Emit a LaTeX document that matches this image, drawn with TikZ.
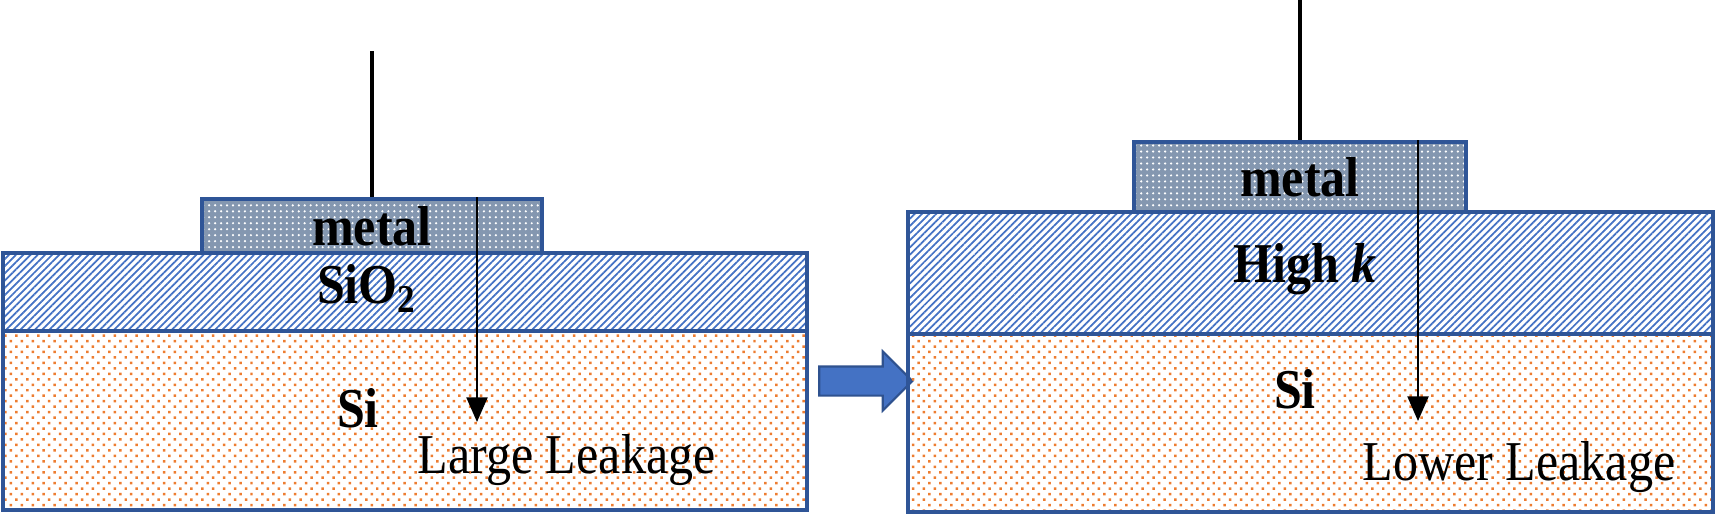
\documentclass[tikz,border=0pt]{standalone}
\usepackage{fontspec}
\setmainfont{Liberation Serif}[FakeStretch=0.89]
\usepackage{tikz}
\usetikzlibrary{arrows.meta,patterns.meta,shapes.arrows}
\definecolor{gateEdge}{HTML}{2F5597}
\definecolor{gateMetal}{HTML}{8497B0}
\definecolor{gateHatch}{HTML}{4472C4}
\definecolor{gateDots}{HTML}{ED7D31}
\definecolor{gateArrow}{HTML}{4472C4}
\definecolor{gateArrowEdge}{HTML}{2F528F}

\begin{document}
\begin{tikzpicture}[
  x=0.1mm,y=-0.1mm,
  font=\fontsize{16}{19}\selectfont,
  layer/.style={draw=gateEdge,line width=0.9pt,inner sep=0pt},
  sub/.style={layer,pattern={Dots[angle=45,distance=2.2pt,radius=0.5pt]},pattern color=gateDots},
  oxide/.style={layer,pattern={Lines[angle=45,distance=1.45pt,line width=0.5pt]},pattern color=gateHatch},
  gate/.style={layer,preaction={fill=gateMetal},pattern={Dots[distance=1.7pt,radius=0.35pt]},pattern color=white,font=\fontsize{16}{19}\selectfont\bfseries},
  lbl/.style={font=\fontsize{16}{19}\selectfont\bfseries,anchor=base,inner sep=0pt},
  wire/.style={line width=1.2pt},
  leak/.style={-{Triangle[length=7pt,width=6pt]},line width=0.5pt}
]
\useasboundingbox (0,0) rectangle (1716,516);
% left: SiO2 stack
\node[sub,minimum width=80.4mm,minimum height=17.9mm] (subL) at (405,420.5) {};
\node[oxide,minimum width=80.4mm,minimum height=7.8mm] (oxL) at (405,292) {};
\node[gate,minimum width=34mm,minimum height=5.4mm] (gateL) at (372,226) {metal};
\node[lbl] (oxLtxt) at (367,303) {SiO\textsubscript{2}};
\node[lbl] (siLtxt) at (358,427) {Si};
\node[anchor=base west,inner sep=0pt] (lkLtxt) at (417,473) {Large Leakage};
\coordinate (topL) at (372,51);
\draw[wire] (topL) -- (gateL.north);
\coordinate (lkL) at (477,422);
\draw[leak] (gateL.north -| lkL) -- (lkL);
% block arrow
\node[single arrow,fill=gateArrow,draw=gateArrowEdge,line width=0.6pt,
  minimum height=9.3mm,single arrow head extend=1.5mm,single arrow head indent=0pt,
  text height=2.7mm,text depth=0pt,inner sep=0pt,outer sep=0pt] (shift) at (858.5,381) {};
% right: high-k stack
\node[sub,minimum width=80.5mm,minimum height=17.8mm] (subR) at (1310.5,423) {};
\node[oxide,minimum width=80.5mm,minimum height=12.2mm] (oxR) at (1310.5,273) {};
\node[gate,minimum width=33.2mm,minimum height=7mm] (gateR) at (1300,177) {metal};
\node[lbl] (hkRtxt) at (1305,282) {High \textit{k}};
\node[lbl] (siRtxt) at (1295,408) {Si};
\node[anchor=base west,inner sep=0pt] (lkRtxt) at (1362,480) {Lower Leakage};
\coordinate (topR) at (1300,0);
\draw[wire] (topR) -- (gateR.north);
\coordinate (lkR) at (1418,421);
\draw[leak] (gateR.north -| lkR) -- (lkR);
\end{tikzpicture}
\end{document}
